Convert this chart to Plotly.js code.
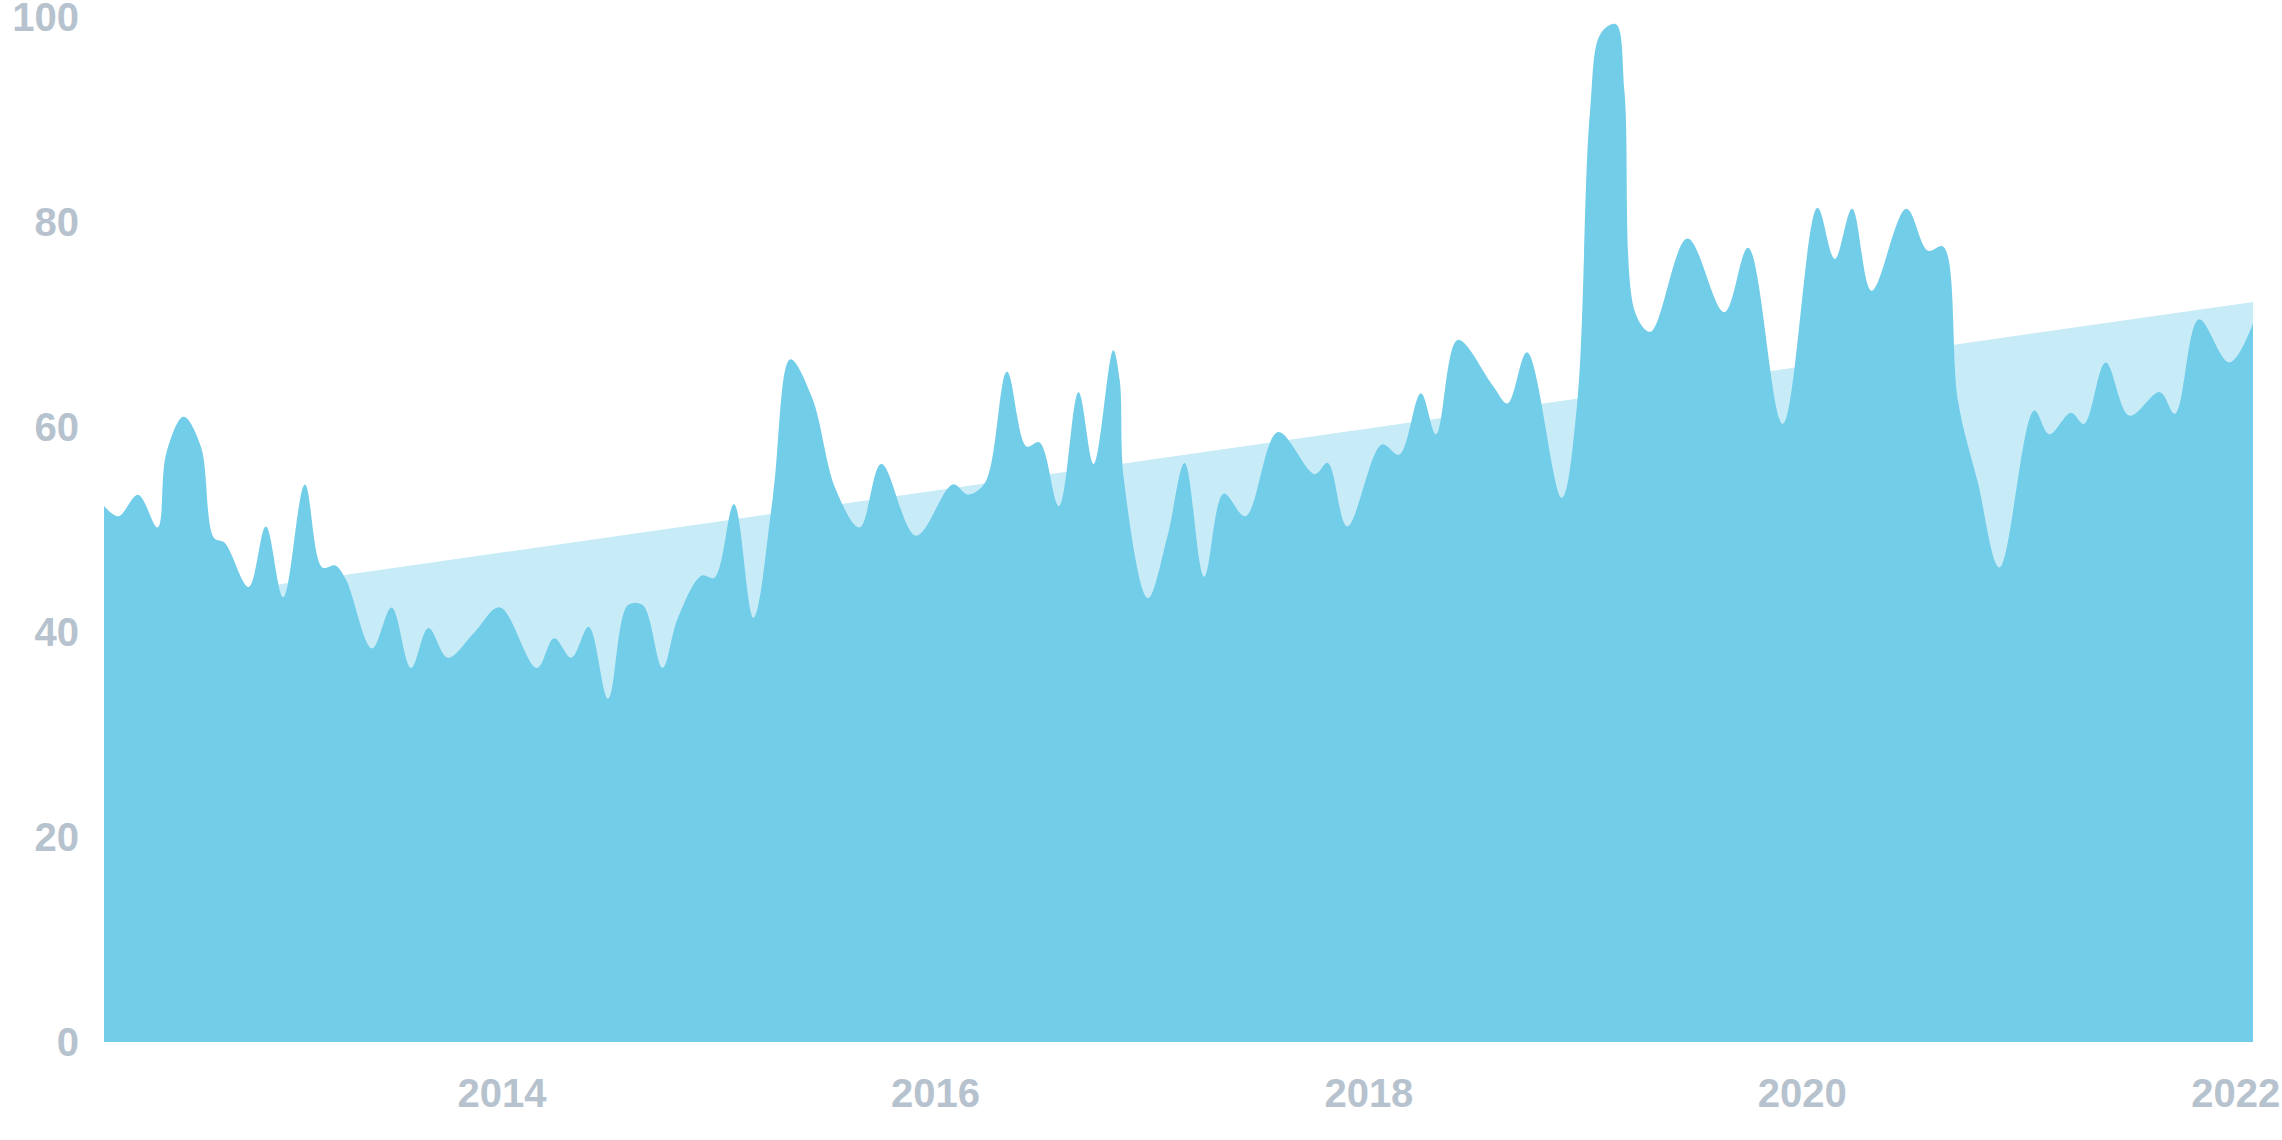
<!DOCTYPE html>
<html>
<head>
<meta charset="utf-8">
<script src="https://cdn.plot.ly/plotly-3.0.1.min.js"></script>
<style>
  html, body { margin: 0; padding: 0; background: #fff; }
  #chart { width: 2282px; height: 1140px; }
</style>
</head>
<body>
<div id="chart"></div>
<script>
// interest over time (decimal year, 0-100 index)
const YEARS = [
  2012.163, 2012.23, 2012.32, 2012.41, 2012.45, 2012.53, 2012.61, 2012.67, 2012.72, 2012.83,
  2012.91, 2012.99, 2013.09, 2013.17, 2013.23, 2013.28, 2013.40, 2013.49, 2013.58, 2013.66,
  2013.75, 2013.87, 2013.99, 2014.16, 2014.24, 2014.32, 2014.40, 2014.49, 2014.58, 2014.65,
  2014.74, 2014.81, 2014.92, 2014.98, 2015.07, 2015.16, 2015.25, 2015.33, 2015.43, 2015.54,
  2015.65, 2015.75, 2015.91, 2016.08, 2016.15, 2016.23, 2016.33, 2016.42, 2016.48, 2016.57,
  2016.66, 2016.73, 2016.82, 2016.85, 2016.87, 2016.98, 2017.07, 2017.15, 2017.24, 2017.33,
  2017.43, 2017.58, 2017.75, 2017.81, 2017.90, 2018.06, 2018.14, 2018.24, 2018.31, 2018.41,
  2018.57, 2018.64, 2018.73, 2018.89, 2018.96, 2019.02, 2019.07, 2019.14, 2019.18, 2019.23,
  2019.30, 2019.47, 2019.64, 2019.75, 2019.91, 2020.07, 2020.15, 2020.23, 2020.32, 2020.48,
  2020.58, 2020.65, 2020.72, 2020.81, 2020.91, 2021.07, 2021.14, 2021.24, 2021.30, 2021.40,
  2021.51, 2021.65, 2021.72, 2021.83, 2021.97, 2022.08
];
const INTEREST = [
  52.3, 51.3, 53.4, 50.2, 57.4, 61.0, 58.1, 49.2, 48.7, 44.4,
  50.3, 43.4, 54.4, 46.3, 46.5, 45.1, 38.4, 42.4, 36.5, 40.4,
  37.5, 39.9, 42.4, 36.5, 39.4, 37.5, 40.5, 33.5, 42.6, 42.6,
  36.5, 41.3, 45.5, 45.3, 52.5, 41.4, 53.2, 66.6, 62.9, 53.9,
  50.2, 56.4, 49.4, 54.4, 53.4, 54.6, 65.4, 58.1, 58.5, 52.3,
  63.4, 56.4, 67.5, 64.6, 54.8, 43.3, 49.3, 56.5, 45.4, 53.5,
  51.3, 59.5, 55.4, 56.5, 50.3, 58.3, 57.3, 63.3, 59.3, 68.5,
  64.1, 62.3, 67.3, 53.1, 62.0, 90.6, 98.4, 99.3, 92.6, 71.1,
  69.3, 78.4, 71.2, 77.5, 60.3, 81.4, 76.4, 81.3, 73.3, 81.3,
  77.2, 77.6, 62.4, 54.6, 46.3, 61.6, 59.3, 61.4, 60.3, 66.3,
  61.1, 63.4, 61.3, 70.5, 66.3, 70.1
];

// linear trend behind the series
const TREND_YEARS = [2012.163, 2022.08];
const TREND_VALUES = [42.2, 72.2];

const X_TICKS = [2014, 2016, 2018, 2020, 2022];
const Y_TICKS = [0, 20, 40, 60, 80, 100];

const TICK_FONT = { family: "'Liberation Sans', Arial, sans-serif", size: 40, color: '#B6C2CE', weight: 'bold' };

const traces = [
  {
    type: 'scatter', mode: 'lines',
    x: TREND_YEARS, y: TREND_VALUES,
    fill: 'tozeroy', fillcolor: '#C8EBF8',
    line: { width: 0, color: '#C8EBF8' },
    hoverinfo: 'skip',
  },
  {
    type: 'scatter', mode: 'lines',
    x: YEARS, y: INTEREST,
    fill: 'tozeroy', fillcolor: '#72CDE9',
    line: { width: 0, color: '#72CDE9', shape: 'spline', smoothing: 1 },
  },
];

const layout = {
  width: 2282, height: 1140,
  margin: { l: 104, r: 29, t: 17, b: 98 },
  paper_bgcolor: '#fff', plot_bgcolor: '#fff',
  showlegend: false,
  xaxis: {
    range: [2012.163, 2022.08],
    tickvals: X_TICKS, ticktext: X_TICKS.map(String),
    showgrid: false, zeroline: false, showline: false,
    ticks: '', ticklabelstandoff: 24, ticklabeloverflow: 'allow',
    tickfont: TICK_FONT,
  },
  yaxis: {
    range: [0, 100],
    tickvals: Y_TICKS,
    showgrid: false, zeroline: false, showline: false,
    ticks: '', ticklabelstandoff: 24, ticklabeloverflow: 'allow',
    tickfont: TICK_FONT,
  },
};

Plotly.newPlot('chart', traces, layout, { displayModeBar: false, staticPlot: true });
</script>
</body>
</html>
